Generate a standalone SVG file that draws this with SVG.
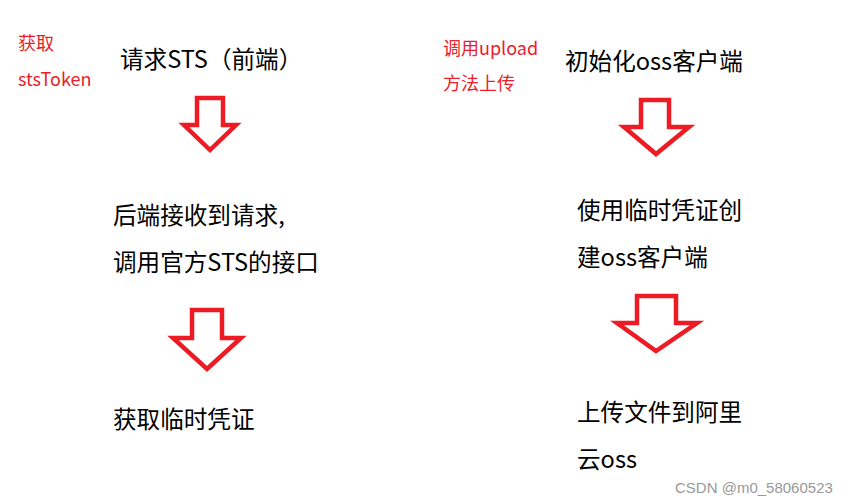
<svg xmlns="http://www.w3.org/2000/svg" width="853" height="503" viewBox="0 0 853 503">
<style>
.t{font-family:"Noto Sans CJK SC","Liberation Sans",sans-serif;font-size:23.6px;fill:#000}
.r{font-family:"Noto Sans CJK SC","Liberation Sans",sans-serif;font-size:18px;fill:#e8212a}
.a{fill:#fff;stroke:#ed1c24;stroke-width:4.5;stroke-linejoin:miter}
.w{font-family:"Liberation Sans",sans-serif;font-size:15px;fill:#999}
</style>
<rect width="853" height="503" fill="#fff"/>
<g id="label-left"><text class="r" x="18" y="50">获取</text><text class="r" x="18" y="86">stsToken</text></g>
<g id="label-right"><text class="r" x="443" y="55">调用upload</text><text class="r" x="443" y="90">方法上传</text></g>
<g id="n1"><text class="t" x="120" y="68">请求STS（前端）</text></g>
<g id="n2"><text class="t" x="113" y="224">后端接收到请求,</text><text class="t" x="113" y="271">调用官方STS的接口</text></g>
<g id="n3"><text class="t" x="113" y="428">获取临时凭证</text></g>
<g id="n4"><text class="t" x="565" y="70">初始化oss客户端</text></g>
<g id="n5"><text class="t" x="577" y="219">使用临时凭证创</text><text class="t" x="577" y="266">建oss客户端</text></g>
<g id="n6"><text class="t" x="577" y="421">上传文件到阿里</text><text class="t" x="577" y="468">云oss</text></g>
<g id="connectors">
<polygon class="a" points="197,98 223,98 223,125 236,125 210,150 184,125 197,125"/>
<polygon class="a" points="192,310 222,310 222,338 241,338 207,369 173,338 192,338"/>
<polygon class="a" points="641,100 669,100 669,127 689,127 656,154 624,127 641,127"/>
<polygon class="a" points="637,296 676,296 676,323 697,323 656,351 617,323 637,323"/>
</g>
<text class="w" x="675" y="493">CSDN @m0_58060523</text>
</svg>
